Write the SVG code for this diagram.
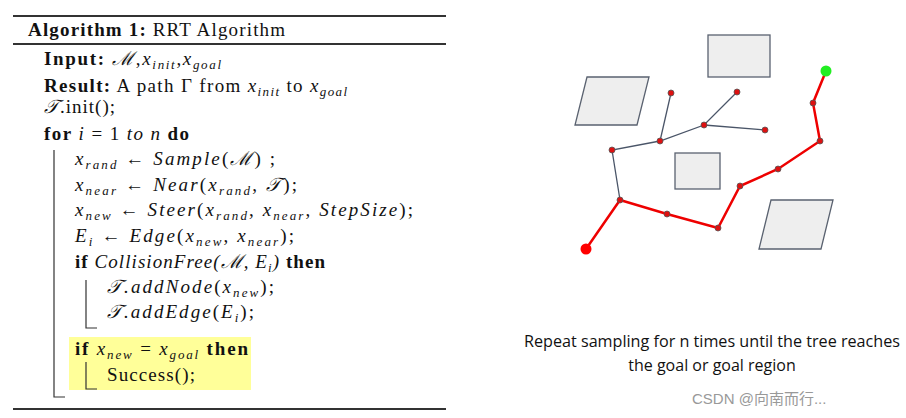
<svg xmlns="http://www.w3.org/2000/svg" width="906" height="418" viewBox="0 0 906 418">
<style>
.t{font-family:"Liberation Serif",serif;font-size:19px;fill:#111}
.b{font-weight:bold}
.i{font-style:italic}
.s{font-size:13px;font-style:italic}
.rule{stroke:#333;stroke-width:2}
.bar{stroke:#333;stroke-width:1.2;fill:none}
.obs{fill:#eeeeee;stroke:#5a6270;stroke-width:1.3}
.tree{stroke:#4a5568;stroke-width:1.3;fill:none}
.path{stroke:#ee0000;stroke-width:2.5;fill:none}
.nd{fill:#dd1111;stroke:#555;stroke-width:0.8}
.cap{font-family:"Open Sans","Liberation Sans",sans-serif;font-size:16px;fill:#111;text-anchor:middle}
</style>
<rect width="906" height="418" fill="#fff"/>
<g id="algorithm">
<line class="rule" x1="13" y1="16" x2="446" y2="16"/>
<line class="rule" x1="13" y1="44" x2="446" y2="44"/>
<line class="rule" x1="13" y1="409" x2="446" y2="409"/>
<rect x="69" y="337" width="182" height="53" fill="#ffff99"/>
<path class="bar" d="M54 150V397H65"/>
<path class="bar" d="M86 280V328H97"/>
<path class="bar" d="M86 362V389H97"/>
<text class="t" x="28" y="36" textLength="257" lengthAdjust="spacing"><tspan class="b">Algorithm 1:</tspan> RRT Algorithm</text>
<text class="t" x="44" y="65" textLength="177" lengthAdjust="spacing"><tspan class="b">Input:</tspan> <tspan class="i">ℳ</tspan>,<tspan class="i">x</tspan><tspan class="s" dy="4">init</tspan><tspan dy="-4">,</tspan><tspan class="i">x</tspan><tspan class="s" dy="4">goal</tspan></text>
<text class="t" x="44" y="92" textLength="303" lengthAdjust="spacing"><tspan class="b">Result:</tspan> A path Γ from <tspan class="i">x</tspan><tspan class="s" dy="4">init</tspan><tspan dy="-4"> to </tspan><tspan class="i">x</tspan><tspan class="s" dy="4">goal</tspan></text>
<text class="t" x="44" y="113" textLength="71" lengthAdjust="spacing"><tspan class="i">𝒯</tspan>.init();</text>
<text class="t" x="44" y="140" textLength="145" lengthAdjust="spacing"><tspan class="b">for</tspan> <tspan class="i">i</tspan> = 1 <tspan class="i">to n</tspan> <tspan class="b">do</tspan></text>
<text class="t" x="75" y="165" textLength="200" lengthAdjust="spacing"><tspan class="i">x</tspan><tspan class="s" dy="4">rand</tspan><tspan dy="-4"> ← </tspan><tspan class="i">Sample</tspan>(<tspan class="i">ℳ</tspan>) ;</text>
<text class="t" x="75" y="191" textLength="222" lengthAdjust="spacing"><tspan class="i">x</tspan><tspan class="s" dy="4">near</tspan><tspan dy="-4"> ← </tspan><tspan class="i">Near</tspan>(<tspan class="i">x</tspan><tspan class="s" dy="4">rand</tspan><tspan dy="-4">, </tspan><tspan class="i">𝒯</tspan>);</text>
<text class="t" x="75" y="216" textLength="338" lengthAdjust="spacing"><tspan class="i">x</tspan><tspan class="s" dy="4">new</tspan><tspan dy="-4"> ← </tspan><tspan class="i">Steer</tspan>(<tspan class="i">x</tspan><tspan class="s" dy="4">rand</tspan><tspan dy="-4">, </tspan><tspan class="i">x</tspan><tspan class="s" dy="4">near</tspan><tspan dy="-4">, </tspan><tspan class="i">StepSize</tspan>);</text>
<text class="t" x="75" y="242" textLength="219" lengthAdjust="spacing"><tspan class="i">E</tspan><tspan class="s" dy="4">i</tspan><tspan dy="-4"> ← </tspan><tspan class="i">Edge</tspan>(<tspan class="i">x</tspan><tspan class="s" dy="4">new</tspan><tspan dy="-4">, </tspan><tspan class="i">x</tspan><tspan class="s" dy="4">near</tspan><tspan dy="-4">);</tspan></text>
<text class="t" x="75" y="268" textLength="250" lengthAdjust="spacing"><tspan class="b">if</tspan> <tspan class="i">CollisionFree(ℳ, E</tspan><tspan class="s" dy="4">i</tspan><tspan class="i" dy="-4">)</tspan> <tspan class="b">then</tspan></text>
<text class="t" x="107" y="293" textLength="167" lengthAdjust="spacing"><tspan class="i">𝒯.addNode</tspan>(<tspan class="i">x</tspan><tspan class="s" dy="4">new</tspan><tspan dy="-4">);</tspan></text>
<text class="t" x="107" y="318" textLength="147" lengthAdjust="spacing"><tspan class="i">𝒯.addEdge</tspan>(<tspan class="i">E</tspan><tspan class="s" dy="4">i</tspan><tspan dy="-4">);</tspan></text>
<text class="t" x="75" y="355" textLength="173" lengthAdjust="spacing"><tspan class="b">if</tspan> <tspan class="i">x</tspan><tspan class="s" dy="4">new</tspan><tspan dy="-4"> = </tspan><tspan class="i">x</tspan><tspan class="s" dy="4">goal</tspan><tspan class="b" dy="-4"> then</tspan></text>
<text class="t" x="107" y="381" textLength="88" lengthAdjust="spacing">Success();</text>
</g>
<g id="obstacles">
<rect class="obs" x="708" y="35" width="62" height="42"/>
<polygon class="obs" points="587,77 649,77 637,125 575,125"/>
<rect class="obs" x="675" y="153" width="45" height="36"/>
<polygon class="obs" points="771,200 833,200 821,249 759,249"/>
</g>
<g id="connectors">
<polyline class="tree" points="620,200 612,150 660,141 704,125 737,92"/>
<line class="tree" x1="660" y1="141" x2="671" y2="93"/>
<line class="tree" x1="704" y1="125" x2="765" y2="130"/>
<polyline class="path" points="586,249 620,200 667,214 718,228 740,186 778,169 820,141 813,103 826,71"/>
</g>
<g id="nodes">
<circle cx="586" cy="249" r="5.5" fill="#ff0000"/>
<circle cx="826" cy="71" r="5.5" fill="#22ee22"/>
<circle class="nd" cx="620" cy="200" r="3"/>
<circle class="nd" cx="612" cy="150" r="3"/>
<circle class="nd" cx="660" cy="141" r="3"/>
<circle class="nd" cx="671" cy="93" r="3"/>
<circle class="nd" cx="704" cy="125" r="3"/>
<circle class="nd" cx="737" cy="92" r="3"/>
<circle class="nd" cx="765" cy="130" r="3"/>
<circle class="nd" cx="667" cy="214" r="3"/>
<circle class="nd" cx="718" cy="228" r="3"/>
<circle class="nd" cx="740" cy="186" r="3"/>
<circle class="nd" cx="778" cy="169" r="3"/>
<circle class="nd" cx="820" cy="141" r="3"/>
<circle class="nd" cx="813" cy="103" r="3"/>
</g>
<g id="caption">
<text class="cap" x="712" y="347" textLength="376" lengthAdjust="spacingAndGlyphs">Repeat sampling for n times until the tree reaches</text>
<text class="cap" x="712" y="371">the goal or goal region</text>
<text x="692" y="404" style="font-family:'Liberation Sans','Noto Sans CJK SC',sans-serif;font-size:15px;fill:#999">CSDN @向南而行...</text>
</g>
</svg>
